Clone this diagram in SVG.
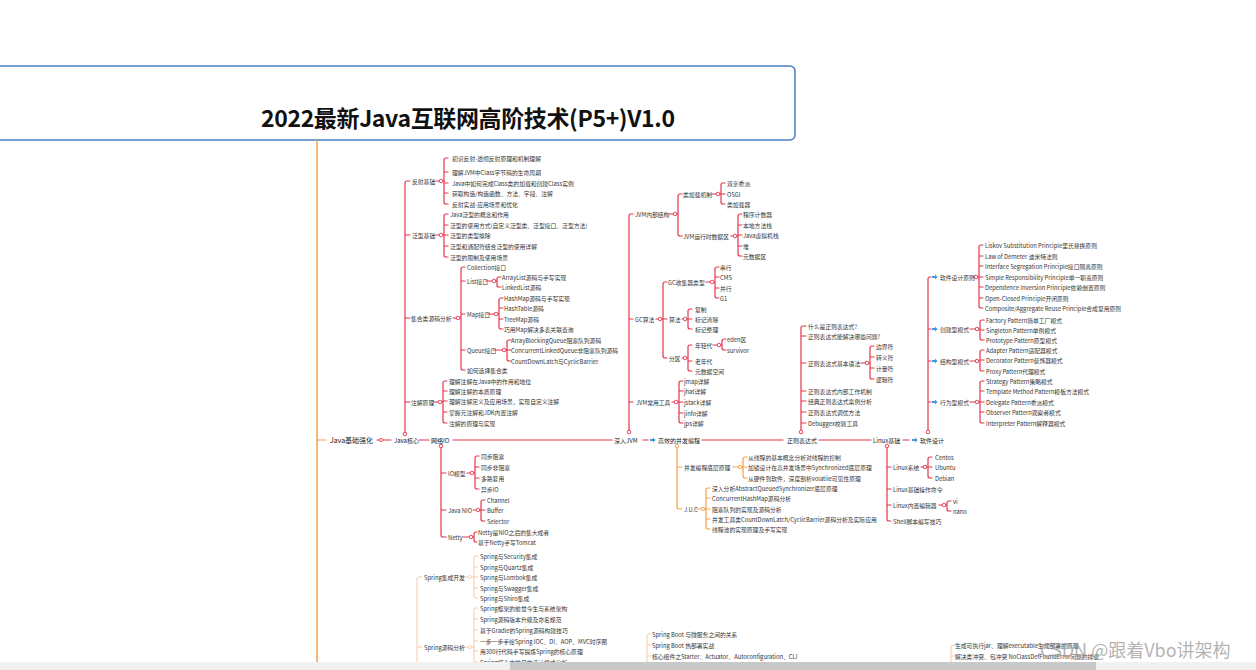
<svg xmlns="http://www.w3.org/2000/svg" width="1256" height="670" viewBox="0 0 1256 670">
<style>
.t{font-family:"Noto Sans CJK SC","Noto Sans",sans-serif;font-size:5.8px;fill:#333;dominant-baseline:central}
.m{font-size:6px;fill:#222}
.root{font-size:7px;fill:#222}
.title{font-family:"Noto Sans CJK SC","Noto Sans",sans-serif;font-size:23px;font-weight:bold;fill:#111}
.r{fill:none;stroke:#e4354d;stroke-width:1.2;stroke-linecap:round}
.o{fill:none;stroke:#f3a04a;stroke-width:1.2;stroke-linecap:round}
.p{fill:none;stroke:#f7c9a8;stroke-width:1}
.cr{fill:#fff;stroke:#e4354d;stroke-width:0.9}
.co{fill:#fff;stroke:#f3a04a;stroke-width:0.9}
.cp{fill:#fff;stroke:#f7c9a8;stroke-width:0.8}
.wm{font-family:"Noto Sans CJK SC","Noto Sans",sans-serif;font-size:18px;fill:#9a9a9a;fill-opacity:0.75}
</style>
<defs>
<path id="arr" d="M0,-1.1H3V-2.6L5.6,0L3,2.6V1.1H0Z" fill="#3a9be0"/>
</defs>
<rect width="1256" height="670" fill="#fff"/>
<g id="title">
<rect x="-10" y="66" width="805" height="74" rx="5" fill="#fff" stroke="#4a7fc1" stroke-width="1.5"/>
<text class="title" x="468" y="127" text-anchor="middle" textLength="414" lengthAdjust="spacing">2022最新Java互联网高阶技术(P5+)V1.0</text>
</g>
<g id="connectors">
<path d="M317,140V670" fill="none" stroke="#f3a04a" stroke-width="1.5"/>
<path class="o" d="M317,440H326"/>
<path class="r" d="M377,440H391 M419,440H429 M453,440H612 M643,440H648 M702,440H783 M819,440H871 M903,440H909"/>
<circle class="cr" cx="381" cy="440" r="1.6"/>
<!-- Java核心 -->
<path class="r" d="M405,434V183Q405,181 407,181H410 M405,235h5 M405,318h5 M405,402h5"/>
<path class="r" d="M448,158H446Q444,158 444,160V202Q444,204 446,204H448 M444,172h4 M444,183h4 M444,193h4 M436,181H444"/>
<path class="r" d="M448,214H446Q444,214 444,216V255Q444,257 446,257H448 M444,225h4 M444,235h4 M444,246h4 M436,235H444"/>
<path class="r" d="M465,267H463Q461,267 461,269V368Q461,370 463,370H465 M461,281h4 M461,314h4 M461,350h4 M453,318H461"/>
<path class="r" d="M501,277H499Q497,277 497,279V285Q497,287 499,287H501 M486,281H497"/>
<path class="r" d="M503,298H501Q499,298 499,300V327Q499,329 501,329H503 M499,308h4 M499,319h4 M487,314H499"/>
<path class="r" d="M511,340H509Q507,340 507,342V359Q507,361 509,361H511 M507,350h4 M493,350H507"/>
<path class="r" d="M447,381H445Q443,381 443,383V421Q443,423 445,423H447 M443,391h4 M443,401h4 M443,412h4 M434,402H443"/>
<circle class="cr" cx="405" cy="434" r="1.8"/>
<circle class="cr" cx="441" cy="181" r="1.8"/>
<circle class="cr" cx="441" cy="235" r="1.8"/>
<circle class="cr" cx="458" cy="318" r="1.8"/>
<circle class="cr" cx="494" cy="281" r="1.8"/>
<circle class="cr" cx="496" cy="314" r="1.8"/>
<circle class="cr" cx="504" cy="350" r="1.8"/>
<circle class="cr" cx="440" cy="402" r="1.8"/>
<!-- 网络IO -->
<path class="r" d="M441,446V535Q441,537 443,537H446 M441,473h5 M441,510h5"/>
<path class="r" d="M479,456H477Q475,456 475,458V487Q475,489 477,489H479 M475,467h4 M475,478h4 M467,473H475"/>
<path class="r" d="M485,500H483Q481,500 481,502V519Q481,521 483,521H485 M481,510h4 M473,510H481"/>
<path class="r" d="M477,532H476Q474,532 474,534V540Q474,542 476,542H477 M463,537H474"/>
<circle class="cr" cx="441" cy="446" r="1.8"/>
<circle class="cr" cx="472" cy="473" r="1.8"/>
<circle class="cr" cx="478" cy="510" r="1.8"/>
<circle class="cr" cx="471" cy="537" r="1.8"/>
<!-- JVM -->
<path class="r" d="M629,432V216Q629,214 631,214H633 M629,319h4 M629,402h4"/>
<path class="r" d="M682,194H680Q678,194 678,196V234Q678,236 680,236H682 M669,214H678"/>
<path class="r" d="M725,183H723Q721,183 721,185V202Q721,204 723,204H725 M721,194h4 M712,194H721"/>
<path class="r" d="M742,214H740Q738,214 738,216V254Q738,256 740,256H742 M738,225h4 M738,235h4 M738,246h4 M731,236H738"/>
<path class="r" d="M667,282H665Q663,282 663,284V356Q663,358 665,358H667 M663,319h4 M656,319H663"/>
<path class="r" d="M719,267H717Q715,267 715,269V296Q715,298 717,298H719 M715,277h4 M715,288h4 M706,282H715"/>
<path class="r" d="M692,309H690Q688,309 688,311V327Q688,329 690,329H692 M688,319h4 M682,319H688"/>
<path class="r" d="M692,345H690Q688,345 688,347V369Q688,371 690,371H692 M688,361h4 M682,358H688"/>
<path class="r" d="M726,339H724Q722,339 722,341V348Q722,350 724,350H726 M713,345H722"/>
<path class="r" d="M683,381H681Q679,381 679,383V421Q679,423 681,423H683 M679,391h4 M679,402h4 M679,413h4 M672,402H679"/>
<circle class="cr" cx="629" cy="432" r="1.8"/>
<circle class="cr" cx="675" cy="214" r="1.8"/>
<circle class="cr" cx="718" cy="194" r="1.8"/>
<circle class="cr" cx="735" cy="236" r="1.8"/>
<circle class="cr" cx="660" cy="319" r="1.8"/>
<circle class="cr" cx="712" cy="282" r="1.8"/>
<circle class="cr" cx="685" cy="319" r="1.8"/>
<circle class="cr" cx="685" cy="358" r="1.8"/>
<circle class="cr" cx="719" cy="345" r="1.8"/>
<circle class="cr" cx="676" cy="402" r="1.8"/>
<!-- 并发 -->
<path class="o" d="M677,446V507Q677,509 679,509H682 M677,467h5"/>
<path class="o" d="M747,457H745Q743,457 743,459V476Q743,478 745,478H747 M743,467h4 M733,467H743"/>
<path class="o" d="M710,488H708Q706,488 706,490V527Q706,529 708,529H710 M706,498h4 M706,509h4 M706,519h4 M697,509H706"/>
<circle class="co" cx="677" cy="446" r="1.8"/>
<circle class="co" cx="740" cy="467" r="1.8"/>
<circle class="co" cx="703" cy="509" r="1.8"/>
<!-- 正则 -->
<path class="r" d="M801,432V328Q801,326 803,326H806 M801,336h5 M801,363h5 M801,391h5 M801,401h5 M801,412h5 M801,423h5"/>
<path class="r" d="M874,346H872Q870,346 870,348V377Q870,379 872,379H874 M870,357h4 M870,368h4 M861,363H870"/>
<circle class="cr" cx="801" cy="432" r="1.8"/>
<circle class="cr" cx="867" cy="363" r="1.8"/>
<!-- Linux -->
<path class="r" d="M887,446V519Q887,521 889,521H891 M887,467h4 M887,489h4 M887,505h4"/>
<path class="r" d="M932,457H930Q928,457 928,459V476Q928,478 930,478H932 M928,467h4 M921,467H928"/>
<path class="r" d="M951,501H949Q947,501 947,503V509Q947,511 949,511H951 M939,505H947"/>
<circle class="cr" cx="887" cy="446" r="1.8"/>
<circle class="cr" cx="925" cy="467" r="1.8"/>
<circle class="cr" cx="944" cy="505" r="1.8"/>
<!-- 软件设计 -->
<path class="r" d="M928,432V279Q928,277 930,277H931 M928,329h3 M928,361h3 M928,402h3"/>
<path class="r" d="M983,245H981Q979,245 979,247V306Q979,308 981,308H983 M979,256h4 M979,266h4 M979,277h4 M979,287h4 M979,298h4 M973,277H979"/>
<path class="r" d="M984,320H982Q980,320 980,322V338Q980,340 982,340H984 M980,330h4 M970,329H980"/>
<path class="r" d="M984,350H982Q980,350 980,352V369Q980,371 982,371H984 M980,360h4 M970,361H980"/>
<path class="r" d="M984,381H982Q980,381 980,383V421Q980,423 982,423H984 M980,391h4 M980,402h4 M980,412h4 M970,402H980"/>
<circle class="cr" cx="928" cy="432" r="1.8"/>
<circle class="cr" cx="976" cy="277" r="1.8"/>
<circle class="cr" cx="977" cy="329" r="1.8"/>
<circle class="cr" cx="977" cy="361" r="1.8"/>
<circle class="cr" cx="977" cy="402" r="1.8"/>
<!-- Spring -->
<path class="p" d="M417,672V579Q417,577 419,577H422 M417,647h5"/>
<path class="p" d="M478,556H476Q474,556 474,558V596Q474,598 476,598H478 M474,567h4 M474,577h4 M474,588h4 M463,577H474"/>
<path class="p" d="M478,608H476Q474,608 474,610V672 M474,619h4 M474,630h4 M474,641h4 M474,651h4 M474,662h4 M463,647H474"/>
<path class="p" d="M651,634H649Q647,634 647,636V672 M647,645h4 M647,656h4"/>
<path class="p" d="M955,645H953Q951,645 951,647V672 M951,656h4"/>
<circle class="cp" cx="470" cy="577" r="1.6"/>
<circle class="cp" cx="470" cy="647" r="1.6"/>
</g>
<g id="trunk">
<text class="t root" x="330" y="440">Java基础强化</text>
<text class="t m" x="394" y="440">Java核心</text>
<text class="t m" x="431" y="440">网络IO</text>
<text class="t m" x="614" y="440">深入JVM</text>
<use href="#arr" x="650" y="440"/>
<text class="t m" x="658" y="440">高效的并发编程</text>
<text class="t m" x="787" y="440">正则表达式</text>
<text class="t m" x="873" y="440">Linux基础</text>
<use href="#arr" x="912" y="440"/>
<text class="t m" x="920" y="440">软件设计</text>
</g>
<g id="java-core" class="t">
<text class="t" x="412" y="181">反射基础</text>
<text class="t" x="452" y="158">初识反射-透彻反射原理和机制理解</text>
<text class="t" x="452" y="172">理解JVM中Class字节码的生命周期</text>
<text class="t" x="452" y="183">Java中如何完成Class类的加载和创建Class实例</text>
<text class="t" x="452" y="193">获取构造/构造函数、方法、字段、注解</text>
<text class="t" x="452" y="204">反射实战-应用场景和优化</text>
<text class="t" x="412" y="235">泛型基础</text>
<text class="t" x="450" y="214">Java泛型的概念和作用</text>
<text class="t" x="450" y="225">泛型的使用方式(自定义泛型类、泛型接口、泛型方法)</text>
<text class="t" x="450" y="235">泛型的类型擦除</text>
<text class="t" x="450" y="246">泛型和通配符结合泛型的使用详解</text>
<text class="t" x="450" y="257">泛型的限制及使用场景</text>
<text class="t" x="411" y="318">集合类源码分析</text>
<text class="t" x="467" y="267">Collection接口</text>
<text class="t" x="467" y="281">List接口</text>
<text class="t" x="502" y="277">ArrayList源码与手写实现</text>
<text class="t" x="502" y="287">LinkedList源码</text>
<text class="t" x="467" y="314">Map接口</text>
<text class="t" x="504" y="298">HashMap源码与手写实现</text>
<text class="t" x="504" y="308">HashTable源码</text>
<text class="t" x="504" y="319">TreeMap源码</text>
<text class="t" x="504" y="329">巧用Map解决多表关联查询</text>
<text class="t" x="467" y="350">Queue接口</text>
<text class="t" x="511" y="340">ArrayBlockingQueue阻塞队列源码</text>
<text class="t" x="511" y="350">ConcurrentLinkedQueue非阻塞队列源码</text>
<text class="t" x="511" y="361">CountDownLatch与CyclicBarrier</text>
<text class="t" x="467" y="370">如何选择集合类</text>
<text class="t" x="411" y="402">注解原理</text>
<text class="t" x="449" y="381">理解注解在Java中的作用和地位</text>
<text class="t" x="449" y="391">理解注解的本质原理</text>
<text class="t" x="449" y="401">理解注解定义及应用场景，实现自定义注解</text>
<text class="t" x="449" y="412">掌握元注解和JDK内置注解</text>
<text class="t" x="449" y="423">注解的原理与实现</text>
</g>
<g id="net-io">
<text class="t" x="448" y="473">IO模型</text>
<text class="t" x="481" y="456">同步阻塞</text>
<text class="t" x="481" y="467">同步非阻塞</text>
<text class="t" x="481" y="478">多路复用</text>
<text class="t" x="481" y="489">异步IO</text>
<text class="t" x="448" y="510">Java NIO</text>
<text class="t" x="487" y="500">Channel</text>
<text class="t" x="487" y="510">Buffer</text>
<text class="t" x="487" y="521">Selector</text>
<text class="t" x="448" y="537">Netty</text>
<text class="t" x="478" y="532">Netty是NIO之后的集大成者</text>
<text class="t" x="478" y="542">基于Netty手写Tomcat</text>
</g>
<g id="jvm">
<text class="t" x="635" y="214">JVM内部结构</text>
<text class="t" x="683" y="194">类加载机制</text>
<text class="t" x="727" y="183">双亲委派</text>
<text class="t" x="727" y="194">OSGI</text>
<text class="t" x="727" y="204">类加载器</text>
<text class="t" x="683" y="236">JVM运行时数据区</text>
<text class="t" x="743" y="214">程序计数器</text>
<text class="t" x="743" y="225">本地方法栈</text>
<text class="t" x="743" y="235">Java虚拟机栈</text>
<text class="t" x="743" y="246">堆</text>
<text class="t" x="743" y="256">元数据区</text>
<text class="t" x="635" y="319">GC算法</text>
<text class="t" x="668" y="282">GC收集器类型</text>
<text class="t" x="720" y="267">串行</text>
<text class="t" x="720" y="277">CMS</text>
<text class="t" x="720" y="288">并行</text>
<text class="t" x="720" y="298">G1</text>
<text class="t" x="669" y="319">算法</text>
<text class="t" x="695" y="309">复制</text>
<text class="t" x="695" y="319">标记清除</text>
<text class="t" x="695" y="329">标记整理</text>
<text class="t" x="669" y="358">分区</text>
<text class="t" x="695" y="345">年轻代</text>
<text class="t" x="727" y="339">eden区</text>
<text class="t" x="727" y="350">survivor</text>
<text class="t" x="695" y="361">老年代</text>
<text class="t" x="695" y="371">元数据空间</text>
<text class="t" x="636" y="402">JVM常用工具</text>
<text class="t" x="684" y="381">jmap详解</text>
<text class="t" x="684" y="391">jhat详解</text>
<text class="t" x="684" y="402">jstack详解</text>
<text class="t" x="684" y="413">jinfo详解</text>
<text class="t" x="684" y="423">jps详解</text>
</g>
<g id="concurrency">
<text class="t" x="684" y="467">并发编程底层原理</text>
<text class="t" x="748" y="457">从线程的基本概念分析对线程的控制</text>
<text class="t" x="748" y="467">加锁设计在高并发场景中Synchronized底层原理</text>
<text class="t" x="748" y="478">从硬件到软件，深度剖析volatile可见性原理</text>
<text class="t" x="684" y="509">J.U.C</text>
<text class="t" x="712" y="488">深入分析AbstractQueuedSynchronizer底层原理</text>
<text class="t" x="712" y="498">ConcurrentHashMap源码分析</text>
<text class="t" x="712" y="509">阻塞队列的实现及源码分析</text>
<text class="t" x="712" y="519">并发工具类CountDownLatch/CyclicBarrier源码分析及实际应用</text>
<text class="t" x="712" y="529">线程池的实现原理及手写实现</text>
</g>
<g id="regex">
<text class="t" x="808" y="326">什么是正则表达式?</text>
<text class="t" x="808" y="336">正则表达式能解决哪些问题?</text>
<text class="t" x="808" y="363">正则表达式基本语法</text>
<text class="t" x="876" y="346">边界符</text>
<text class="t" x="876" y="357">转义符</text>
<text class="t" x="876" y="368">计量符</text>
<text class="t" x="876" y="379">逻辑符</text>
<text class="t" x="808" y="391">正则表达式内部工作机制</text>
<text class="t" x="808" y="401">经典正则表达式案例分析</text>
<text class="t" x="808" y="412">正则表达式调优方法</text>
<text class="t" x="808" y="423">Debuggex校验工具</text>
</g>
<g id="linux">
<text class="t" x="893" y="467">Linux系统</text>
<text class="t" x="935" y="457">Centos</text>
<text class="t" x="935" y="467">Ubuntu</text>
<text class="t" x="935" y="478">Debian</text>
<text class="t" x="893" y="489">Linux基础操作命令</text>
<text class="t" x="893" y="505">Linux内置编辑器</text>
<text class="t" x="953" y="501">vi</text>
<text class="t" x="953" y="511">nano</text>
<text class="t" x="893" y="521">Shell脚本编写技巧</text>
</g>
<g id="software-design">
<use href="#arr" x="932" y="277"/>
<text class="t" x="940" y="277">软件设计原则</text>
<text class="t" x="985" y="245">Liskov Substitution Principle里氏替换原则</text>
<text class="t" x="985" y="256">Law of Demeter 迪米特法则</text>
<text class="t" x="985" y="266">Interface Segregation Principle接口隔离原则</text>
<text class="t" x="985" y="277">Simple Responsibility Principle单一职责原则</text>
<text class="t" x="985" y="287">Dependence Inversion Principle依赖倒置原则</text>
<text class="t" x="985" y="298">Open-Closed Principle开闭原则</text>
<text class="t" x="985" y="308">Composite/Aggregate Reuse Principle合成复用原则</text>
<use href="#arr" x="932" y="329"/>
<text class="t" x="940" y="329">创建型模式</text>
<text class="t" x="986" y="320">Factory Pattern简单工厂模式</text>
<text class="t" x="986" y="330">Singleton Pattern单例模式</text>
<text class="t" x="986" y="340">Prototype Pattern原型模式</text>
<use href="#arr" x="932" y="361"/>
<text class="t" x="940" y="361">结构型模式</text>
<text class="t" x="986" y="350">Adapter Pattern适配器模式</text>
<text class="t" x="986" y="360">Decorator Pattern装饰器模式</text>
<text class="t" x="986" y="371">Proxy Pattern代理模式</text>
<use href="#arr" x="932" y="402"/>
<text class="t" x="940" y="402">行为型模式</text>
<text class="t" x="986" y="381">Strategy Pattern策略模式</text>
<text class="t" x="986" y="391">Template Method Pattern模板方法模式</text>
<text class="t" x="986" y="402">Delegate Pattern委派模式</text>
<text class="t" x="986" y="412">Observer Pattern观察者模式</text>
<text class="t" x="986" y="423">Interpreter Pattern解释器模式</text>
</g>
<g id="spring">
<text class="t" x="424" y="577">Spring集成开发</text>
<text class="t" x="480" y="556">Spring与Security集成</text>
<text class="t" x="480" y="567">Spring与Quartz集成</text>
<text class="t" x="480" y="577">Spring与Lombok集成</text>
<text class="t" x="480" y="588">Spring与Swagger集成</text>
<text class="t" x="480" y="598">Spring与Shiro集成</text>
<text class="t" x="424" y="647">Spring源码分析</text>
<text class="t" x="480" y="608">Spring框架的前世今生与系统架构</text>
<text class="t" x="480" y="619">Spring源码版本升级及命名规范</text>
<text class="t" x="480" y="630">基于Gradle的Spring源码构建技巧</text>
<text class="t" x="480" y="641">一步一步手绘Spring IOC、DI、AOP、MVC时序图</text>
<text class="t" x="480" y="651">用300行代码手写提炼Spring的核心原理</text>
<text class="t" x="480" y="662">Spring核心中常见的设计模式分析</text>
</g>
<g id="spring-boot">
<text class="t" x="652" y="634">Spring Boot 与微服务之间的关系</text>
<text class="t" x="652" y="645">Spring Boot 热部署实战</text>
<text class="t" x="652" y="656">核心组件之Starter、Actuator、Autoconfiguration、CLI</text>
<text class="t" x="955" y="645">生成可执行jar、理解executable生成部署的原理</text>
<text class="t" x="955" y="656">解决类冲突、包冲突 NoClassDefFoundError问题的排查</text>
</g>
<g id="watermark">
<text class="wm" x="1040" y="657">CSDN @跟着Vbo讲架构</text>
</g>
<g id="scrollbar">
<rect x="0" y="662" width="1256" height="8" fill="#f1f1f1"/>
<rect x="510" y="662" width="586" height="8" fill="#c8c8c8"/>
</g>
</svg>
